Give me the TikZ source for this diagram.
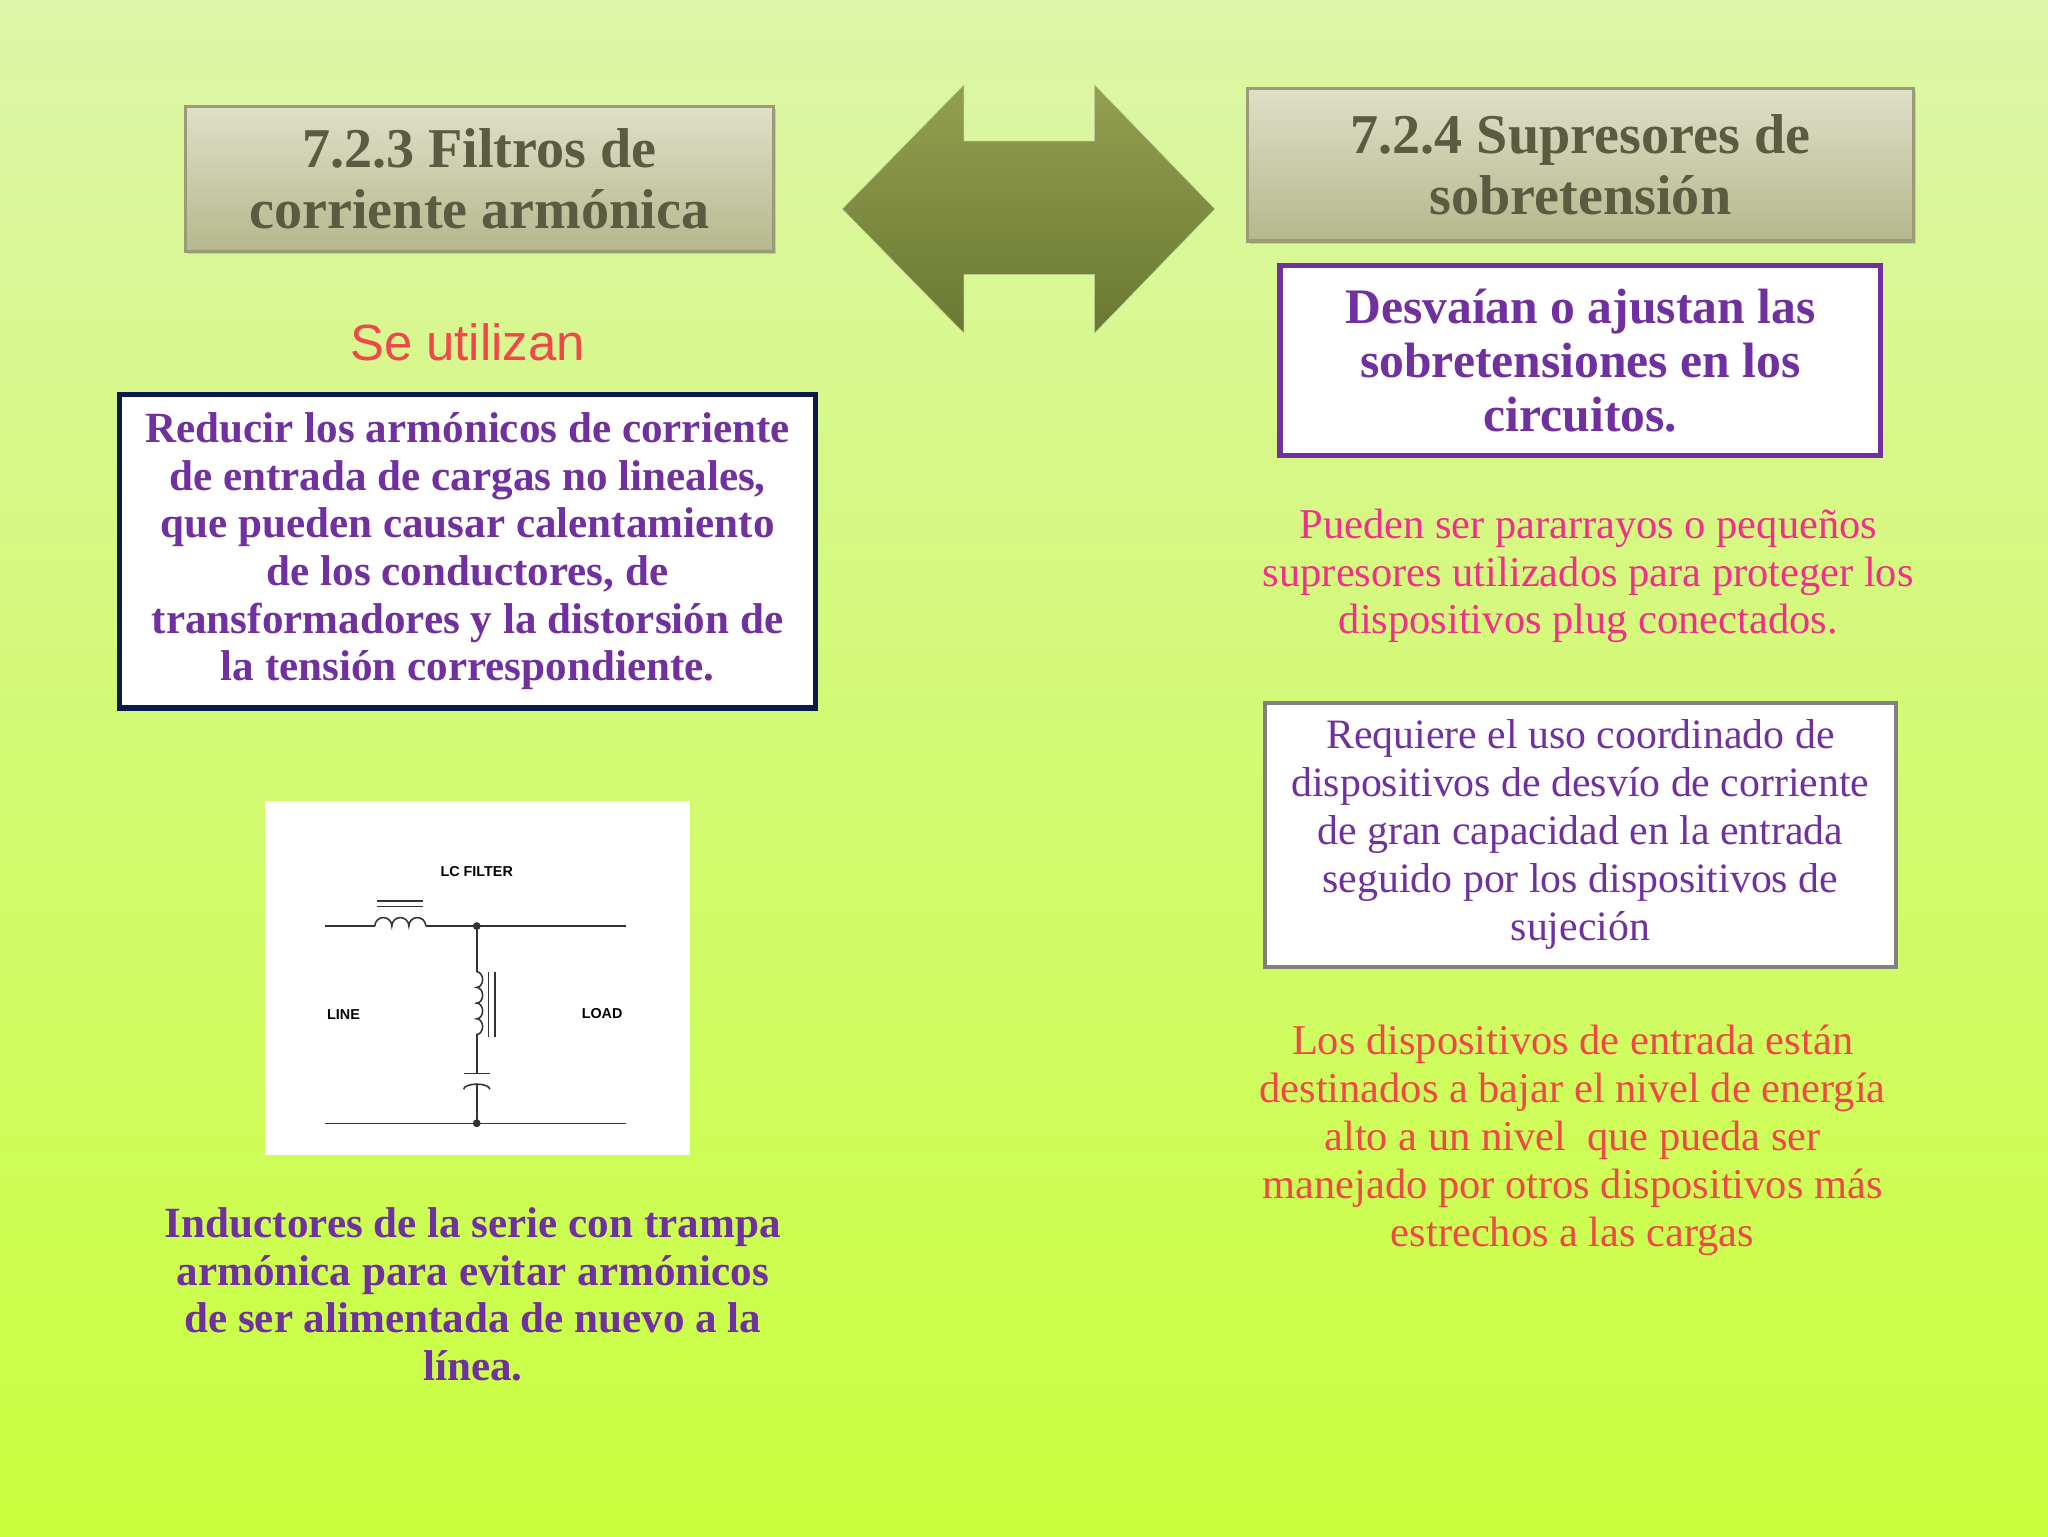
\documentclass[tikz,border=0pt]{standalone}
\usepackage{fontspec}
\setmainfont{Liberation Serif}
\newfontfamily\sansf{Liberation Sans}
\usetikzlibrary{shadows}
\definecolor{purp}{HTML}{7030A0}
\definecolor{pink}{HTML}{F0308A}
\definecolor{redt}{HTML}{F04848}
\definecolor{navy}{HTML}{0A1A4A}
\definecolor{olive}{HTML}{5A5B40}
\definecolor{ttop}{HTML}{DEE0C8}
\definecolor{tbot}{HTML}{B4B88C}
\definecolor{bgtop}{HTML}{DDF5A8}
\definecolor{bgbot}{HTML}{C8FF3C}
\definecolor{arrtop}{HTML}{93A050}
\definecolor{arrbot}{HTML}{6A7832}
\tikzset{
 title/.style={draw=tbot!85!black,line width=2.5pt,top color=ttop,bottom color=tbot,
   text=olive,font=\fontsize{43}{47}\selectfont\bfseries,align=center,drop shadow={opacity=0.3}},
 txt/.style={align=center,inner sep=0pt},
}
\begin{document}
\begin{tikzpicture}[x=1pt,y=-1pt]
\shade[top color=bgtop, bottom color=bgbot] (0,0) rectangle (1568,1176);
\useasboundingbox (0,0) rectangle (1568,1176);
\node[title,minimum width=450,minimum height=111] (t1) at (367,137) {7.2.3 Filtros de\\corriente armónica};
\node[title,minimum width=510,minimum height=117] (t2) at (1210,126) {7.2.4 Supresores de\\sobretensión};
\shade[top color=arrtop,bottom color=arrbot,draw=arrtop!60!white]
 (645,160) -- (738,65) -- (738,108) -- (838,108) -- (838,65) -- (930,160) -- (838,255) -- (838,210) -- (738,210) -- (738,255) -- cycle;
\node[txt,text=redt,font=\sansf\fontsize{39}{42}\selectfont] (se) at (358,262) {Se utilizan};
\node[draw=navy,line width=4pt,fill=white,minimum width=533,minimum height=240] (b1) at (358,422) {};
\node[txt,text=purp,font=\fontsize{33}{36.5}\selectfont\bfseries] (b1t) at (358,422) {Reducir los armónicos de corriente\\de entrada de cargas no lineales,\\que pueden causar calentamiento\\de los conductores, de\\transformadores y la distorsión de\\la tensión correspondiente.};
\node[draw=purp,line width=4pt,fill=white,minimum width=460,minimum height=145] (b2) at (1210,276) {};
\node[txt,text=purp,font=\fontsize{38}{41.5}\selectfont\bfseries] (b2t) at (1210,276) {Desvaían o ajustan las\\sobretensiones en los\\circuitos.};
\node[txt,text=pink,font=\fontsize{32.5}{36.5}\selectfont] (p1) at (1216,441) {Pueden ser pararrayos o pequeños\\supresores utilizados para proteger los\\dispositivos plug conectados.};
\node[draw=gray,line width=3pt,fill=white,minimum width=483,minimum height=202] (b3) at (1210,639) {};
\node[txt,text=purp,font=\fontsize{32}{36.7}\selectfont] (b3t) at (1210,639) {Requiere el uso coordinado de\\dispositivos de desvío de corriente\\de gran capacidad en la entrada\\seguido por los dispositivos de\\sujeción};
\node[txt,text=redt,font=\fontsize{32.5}{36.6}\selectfont] (r1) at (1204,873) {Los dispositivos de entrada están\\destinados a bajar el nivel de energía\\alto a un nivel\ \ que pueda ser\\manejado por otros dispositivos más\\estrechos a las cargas};
\node[txt,text=purp,font=\fontsize{33}{36.6}\selectfont\bfseries] (bt) at (362,991) {Inductores de la serie con trampa\\armónica para evitar armónicos\\de ser alimentada de nuevo a la\\línea.};
% LC filter image
\fill[white] (203,613) rectangle (528,884);
\begin{scope}[line width=1.2pt,black!80]
\draw (249,709) -- (287,709);
\draw (287,709) arc (180:360:6.5) arc (180:360:6.5) arc (180:360:6.5);
\draw (326,709) -- (479,709);
\draw (289,690) -- (324,690) (289,694) -- (324,694);
\draw (365,709) -- (365,744);
\draw (365,744) arc (-90:90:4.5 and 6) arc (-90:90:4.5 and 6) arc (-90:90:4.5 and 6) arc (-90:90:4.5 and 6);
\draw (374,744) -- (374,794) (379,744) -- (379,794);
\draw (365,792) -- (365,822);
\draw (355,822) -- (375,822);
\draw (355,834) arc (180:360:10 and 4);
\draw (365,830) -- (365,860);
\draw (249,860) -- (479,860);
\fill (365,709) circle (3) (365,860) circle (3);
\end{scope}
\node[font=\sansf\bfseries\fontsize{11}{12}\selectfont] (lc) at (365,667) {LC FILTER};
\node[font=\sansf\bfseries\fontsize{11}{12}\selectfont] (ln) at (263,777) {LINE};
\node[font=\sansf\bfseries\fontsize{11}{12}\selectfont] (ld) at (461,776) {LOAD};
\end{tikzpicture}
\end{document}
